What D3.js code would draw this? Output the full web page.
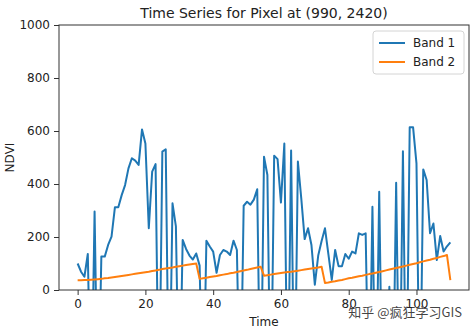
<!DOCTYPE html>
<html>
<head>
<meta charset="utf-8">
<script src="https://cdn.jsdelivr.net/npm/d3@7"></script>
<style>
  html, body { margin: 0; padding: 0; background: #fff; }
  svg { display: block; }
  text { font-family: "DejaVu Sans", sans-serif; fill: #222; }
</style>
</head>
<body>
<svg id="chart" width="474" height="333"></svg>
<script>
// ---- data ----
const titleText = "Time Series for Pixel at (990, 2420)";
const xLabel = "Time";
const yLabel = "NDVI";
const seriesNames = ["Band 1", "Band 2"];
const xTicks = [0, 20, 40, 60, 80, 100];
const yTicks = [0, 200, 400, 600, 800, 1000];
// Band 1, one value per time step 0..110 (negative fill values are clipped by the axis)
const band1 = [
  100, 69, 50, 136, -500, 296, -500, 126, 126, 170,
  201, 312, 312, 358, 396, 459, 497, 488, 472, 606,
  553, 233, 447, 475, -500, 522, 531, -500, 327, 240,
  -500, 189, 155, 130, 115, 138, 92, -500, 186, 164,
  145, 65, 132, 151, 145, 132, 186, 151, -500, 318,
  333, 322, 341, 380, -500, 503, 434, -500, 507, 494,
  330, 553, -500, 526, -500, 485, 346, 192, 233, 170,
  20, 130, 185, 233, 135, 38, 151, 90, 90, 136,
  118, 145, 138, 214, 208, 214, -500, 314, -500, 371,
  -500, -500, 12, -500, 405, -500, 524, -500, 614, 614,
  478, -500, 455, 415, 214, 251, 113, 204, 145, 165,
  180
];
// Band 2, one value per time step 0..110
const band2 = [
  37, 37, 38, 38, 39, 40, 41, 42, 44, 45,
  47, 49, 51, 53, 55, 57, 59, 61, 63, 65,
  67, 69, 72, 74, 76, 79, 81, 83, 85, 88,
  90, 92, 94, 96, 98, 100, 42, 44, 46, 49,
  51, 53, 56, 58, 60, 63, 65, 68, 71, 74,
  76, 79, 82, 85, 88, 54, 56, 58, 60, 62,
  64, 66, 68, 69, 71, 73, 75, 77, 79, 81,
  83, 85, 88, 26, 28, 31, 33, 36, 38, 41,
  44, 46, 49, 52, 54, 57, 60, 62, 65, 68,
  71, 74, 77, 80, 83, 86, 89, 92, 95, 98,
  101, 105, 108, 111, 114, 118, 121, 125, 128, 132,
  37
];
const colors = ["#1f77b4", "#ff7f0e"];

// ---- layout ----
const W = 474, H = 333;
const plot = { left: 59, right: 469, top: 25, bottom: 290 };
const n = band1.length;
const pad = (n - 1) * 0.05;

const svg = d3.select("#chart");
svg.append("rect").attr("width", W).attr("height", H).attr("fill", "#fff");

const x = d3.scaleLinear().domain([-pad, (n - 1) + pad]).range([plot.left, plot.right]);
const y = d3.scaleLinear().domain([0, 1000]).range([plot.bottom, plot.top]);

svg.append("clipPath").attr("id", "clip")
  .append("rect")
  .attr("x", plot.left).attr("y", plot.top)
  .attr("width", plot.right - plot.left).attr("height", plot.bottom - plot.top);

const line = d3.line().x((d, i) => x(i)).y(d => y(d));

const g = svg.append("g").attr("clip-path", "url(#clip)");
[band1, band2].forEach((s, k) => {
  g.append("path").datum(s)
    .attr("d", line)
    .attr("fill", "none")
    .attr("stroke", colors[k])
    .attr("stroke-width", 2)
    .attr("stroke-linejoin", "round")
    .attr("stroke-linecap", "butt");
});

// axes
const xAxis = d3.axisBottom(x).tickValues(xTicks).tickSize(5).tickPadding(4).tickFormat(d3.format("d"));
const yAxis = d3.axisLeft(y).tickValues(yTicks).tickSize(5).tickPadding(4).tickFormat(d3.format("d"));
const gx = svg.append("g").attr("transform", `translate(0,${plot.bottom})`).call(xAxis);
const gy = svg.append("g").attr("transform", `translate(${plot.left},0)`).call(yAxis);
[gx, gy].forEach(a => {
  a.select(".domain").remove();
  a.selectAll(".tick line").attr("stroke", "#333").attr("stroke-width", 1);
  a.selectAll(".tick text").attr("font-size", 12).attr("fill", "#222")
    .style("font-family", "DejaVu Sans, sans-serif");
});

// frame (spines)
svg.append("rect")
  .attr("x", plot.left).attr("y", plot.top)
  .attr("width", plot.right - plot.left).attr("height", plot.bottom - plot.top)
  .attr("fill", "none").attr("stroke", "#333").attr("stroke-width", 1);

// title & labels
svg.append("text").attr("x", (plot.left + plot.right) / 2).attr("y", 18)
  .attr("text-anchor", "middle").attr("font-size", 14).text(titleText);
svg.append("text").attr("x", (plot.left + plot.right) / 2).attr("y", 326)
  .attr("text-anchor", "middle").attr("font-size", 12).text(xLabel);
svg.append("text").attr("transform", `translate(14,${(plot.top + plot.bottom) / 2}) rotate(-90)`)
  .attr("text-anchor", "middle").attr("font-size", 12).text(yLabel);

// legend
const lg = svg.append("g");
lg.append("rect").attr("x", 373).attr("y", 31).attr("width", 91).attr("height", 43)
  .attr("rx", 3).attr("fill", "#fff").attr("fill-opacity", 0.8)
  .attr("stroke", "#d4d4d4").attr("stroke-width", 1);
seriesNames.forEach((name, k) => {
  const yy = 43 + k * 19;
  lg.append("line").attr("x1", 379).attr("x2", 405).attr("y1", yy).attr("y2", yy)
    .attr("stroke", colors[k]).attr("stroke-width", 2);
  lg.append("text").attr("x", 413).attr("y", yy).attr("dy", "0.35em")
    .attr("font-size", 12).text(name);
});

// watermark
svg.append("text").attr("x", 462).attr("y", 317).attr("text-anchor", "end")
  .attr("font-size", 13).style("font-family", "'Noto Sans CJK SC', sans-serif")
  .attr("fill", "#bdbdbd").attr("fill-opacity", 0.85).text("知乎 @疯狂学习GIS");
</script>
</body>
</html>
